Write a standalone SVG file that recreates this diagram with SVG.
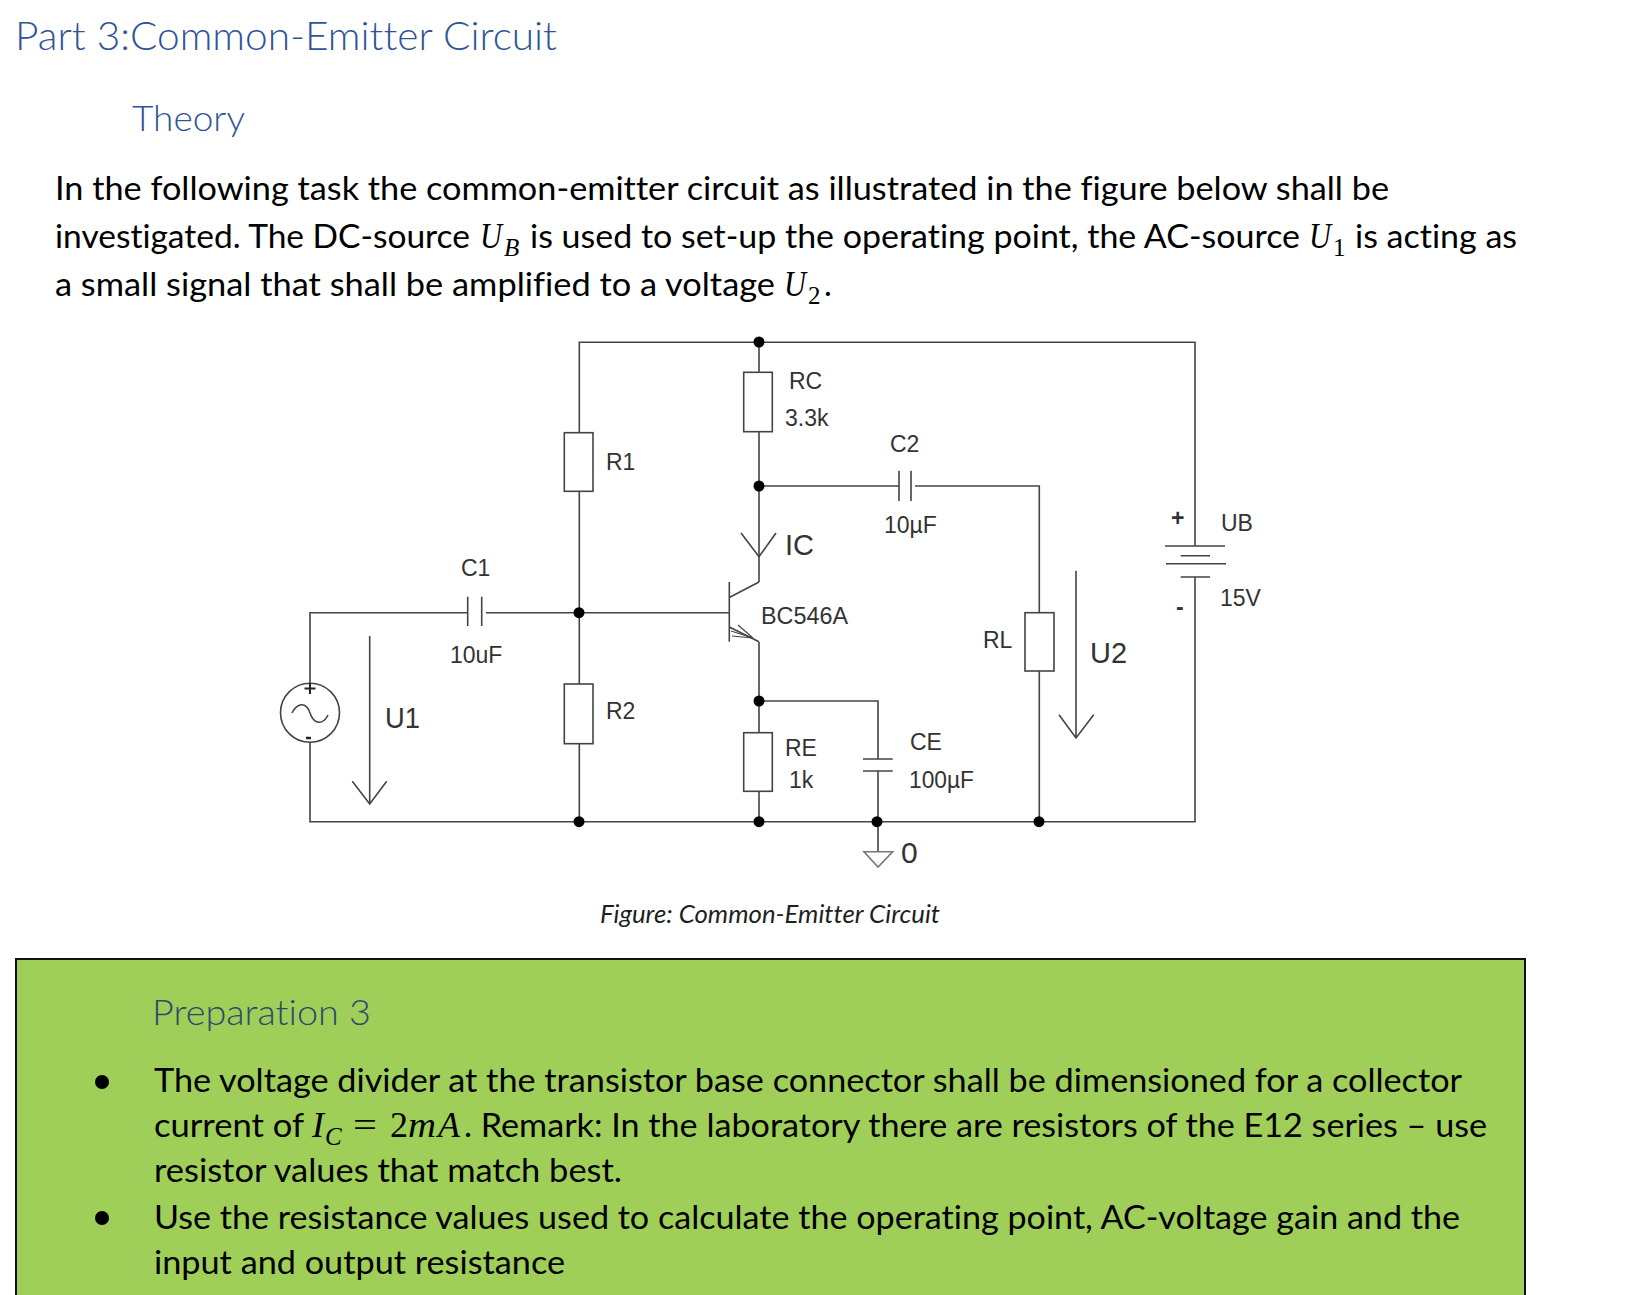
<svg xmlns="http://www.w3.org/2000/svg" width="1647" height="1295" viewBox="0 0 1647 1295">
<style>
text{font-variant-ligatures:none}
.w{fill:none;stroke:#444;stroke-width:1.6}
.r{fill:#fff;stroke:#444;stroke-width:1.6}
.d{fill:#000}
.t{font-family:Lato,"Open Sans",sans-serif;font-size:33px;fill:#000}
.m{font-family:"Liberation Serif",serif;font-style:italic;font-size:36px;fill:#000}
.n{font-family:"Liberation Serif",serif;font-size:36px;fill:#000}
.s{font-size:25px}
.h{font-family:Lato,"Open Sans",sans-serif;font-weight:300;fill:#2f5496}
.c{font-family:"Liberation Sans",Arial,sans-serif;font-size:23px;fill:#333}
.l{font-family:"Liberation Sans",Arial,sans-serif;font-size:30px;fill:#333}
</style>
<rect width="1647" height="1295" fill="#fff"/>
<g id="headings">
<text class="h" x="15" y="50" font-size="40" textLength="542" lengthAdjust="spacingAndGlyphs">Part 3:Common-Emitter Circuit</text>
<text class="h" x="132" y="131" font-size="35" textLength="113" lengthAdjust="spacingAndGlyphs">Theory</text>
</g>
<g id="intro">
<text class="t" x="55" y="200" textLength="1334" lengthAdjust="spacingAndGlyphs">In the following task the common-emitter circuit as illustrated in the figure below shall be</text>
<text class="t" x="55" y="248" textLength="415" lengthAdjust="spacingAndGlyphs">investigated. The DC-source</text>
<text class="m" x="480" y="248" textLength="22" lengthAdjust="spacingAndGlyphs">U</text><text class="m s" x="504" y="256">B</text>
<text class="t" x="530" y="248" textLength="770" lengthAdjust="spacingAndGlyphs">is used to set-up the operating point, the AC-source</text>
<text class="m" x="1309" y="248" textLength="22" lengthAdjust="spacingAndGlyphs">U</text><text class="n s" x="1333" y="256">1</text>
<text class="t" x="1355" y="248" textLength="162" lengthAdjust="spacingAndGlyphs">is acting as</text>
<text class="t" x="55" y="296" textLength="720" lengthAdjust="spacingAndGlyphs">a small signal that shall be amplified to a voltage</text>
<text class="m" x="784" y="296" textLength="22" lengthAdjust="spacingAndGlyphs">U</text><text class="n s" x="808" y="304">2</text>
<text class="t" x="824" y="296">.</text>
</g>
<g id="connectors">
<path class="w" d="M310 683V612.7H468M486 612.7H729.3M310 742V821.7H1195V577M1195 546V342.3H579.3V433M579.3 491V684M579.3 744V821.7"/>
<path class="w" d="M759 342.3V372M759 432V582M759 582L729.3 597.5M759 642V733M759 791V821.7"/>
<path class="w" d="M759 486H899M915 486H1039.3V613M1039.3 671V821.7M759 701H878V759M878 771V852"/>
<path class="w" d="M729.3 582V641.7M369.7 636V804M352.3 781.3L369.7 804L386.7 781.3M1076 570.7V738M1059 714.7L1076 738L1093.7 714.7M741 533L759 556.7L776 533"/>
</g>
<g id="R1"><rect class="r" x="564.3" y="432.7" width="28.7" height="58.6"/><text class="c" x="606" y="470">R1</text></g>
<g id="R2"><rect class="r" x="564.3" y="684" width="28.7" height="59.7"/><text class="c" x="606" y="719">R2</text></g>
<g id="RC"><rect class="r" x="743.7" y="372.3" width="28.6" height="59.4"/><text class="c" x="789" y="389">RC</text><text class="c" x="785" y="426">3.3k</text></g>
<g id="RE"><rect class="r" x="743.7" y="732.7" width="28.6" height="58.6"/><text class="c" x="785" y="756">RE</text><text class="c" x="789" y="788">1k</text></g>
<g id="RL"><rect class="r" x="1025" y="612.7" width="29" height="58.3"/><text class="c" x="983" y="648">RL</text></g>
<g id="C1"><path class="w" d="M467.7 596.7V626M481.7 596.7V626"/><text class="c" x="461" y="576">C1</text><text class="c" x="450" y="663">10uF</text></g>
<g id="C2"><path class="w" d="M899 470.7V501M911 470.7V501"/><text class="c" x="890" y="452">C2</text><text class="c" x="884" y="533">10µF</text></g>
<g id="CE"><path class="w" d="M863 759H892.7M863 771H892.7"/><text class="c" x="910" y="750">CE</text><text class="c" x="909" y="788" textLength="65" lengthAdjust="spacingAndGlyphs">100µF</text></g>
<g id="UB"><path class="w" d="M1165 546H1225M1180.7 555.7H1210M1166 563.7H1226M1180.7 577H1210"/><text class="c" x="1221" y="531">UB</text><text class="c" x="1220" y="606">15V</text><text class="c" x="1171" y="526" font-weight="700">+</text><text class="c" x="1176" y="615" font-weight="700">-</text></g>
<g id="U1src"><circle class="r" cx="310" cy="712.7" r="29.5"/><path class="w" d="M292 713C297 703 306 701 310 713C314 725 323 725 328 715"/><path d="M304.5 688.5H315.5M310 683V694" stroke="#222" stroke-width="2" fill="none"/><path d="M306 738H311" stroke="#222" stroke-width="2.5" fill="none"/><text class="l" x="385" y="728" textLength="35" lengthAdjust="spacingAndGlyphs">U1</text></g>
<g id="U2lbl"><text class="l" x="1090" y="663" textLength="37" lengthAdjust="spacingAndGlyphs">U2</text></g>
<g id="Q1"><path class="w" d="M729.3 627L759 641.7"/><path d="M753 638L738 625M753 638L732 636M753 638L731 631" fill="none" stroke="#444" stroke-width="1.1"/><text class="l" x="785" y="555" textLength="29" lengthAdjust="spacingAndGlyphs">IC</text><text class="c" x="761" y="624" textLength="87" lengthAdjust="spacingAndGlyphs">BC546A</text></g>
<g id="gnd"><path d="M864 851.7H892.7L878 867Z" fill="none" stroke="#777" stroke-width="1.6"/><text class="l" x="901" y="863" font-size="29">0</text></g>
<g id="junctions">
<circle class="d" cx="759" cy="342" r="5.5"/><circle class="d" cx="759" cy="486" r="5.5"/><circle class="d" cx="579" cy="612.7" r="5.5"/><circle class="d" cx="759" cy="701" r="5.5"/><circle class="d" cx="579" cy="821.7" r="5.5"/><circle class="d" cx="759" cy="821.7" r="5.5"/><circle class="d" cx="877" cy="821.7" r="5.5"/><circle class="d" cx="1039" cy="821.7" r="5.5"/>
</g>
<g id="caption"><text x="600" y="923" font-family="Lato,'Open Sans',sans-serif" font-style="italic" font-size="25" fill="#1f1f1f" textLength="340" lengthAdjust="spacingAndGlyphs">Figure: Common-Emitter Circuit</text></g>
<g id="prep">
<rect x="16" y="959" width="1509" height="340" fill="#9fcf58" stroke="#111" stroke-width="2"/>
<text class="h" x="152" y="1025" font-size="36" style="fill:#2c4a6e" textLength="219" lengthAdjust="spacingAndGlyphs">Preparation 3</text>
<circle class="d" cx="102" cy="1082" r="7"/><circle class="d" cx="102" cy="1218" r="7"/>
<text class="t" x="154" y="1092" textLength="1308" lengthAdjust="spacingAndGlyphs">The voltage divider at the transistor base connector shall be dimensioned for a collector</text>
<text class="t" x="154" y="1137" textLength="150" lengthAdjust="spacingAndGlyphs">current of</text>
<text class="m" x="312" y="1137">I</text><text class="m s" x="325" y="1145">C</text>
<text class="n" x="353" y="1137" textLength="24" lengthAdjust="spacingAndGlyphs">=</text>
<text class="n" x="390" y="1137">2</text><text class="m" x="408" y="1137" textLength="28" lengthAdjust="spacingAndGlyphs">m</text><text class="m" x="438" y="1137">A</text>
<text class="t" x="464" y="1137" textLength="1023" lengthAdjust="spacingAndGlyphs">. Remark: In the laboratory there are resistors of the E12 series – use</text>
<text class="t" x="154" y="1182" textLength="468" lengthAdjust="spacingAndGlyphs">resistor values that match best.</text>
<text class="t" x="154" y="1229" textLength="1306" lengthAdjust="spacingAndGlyphs">Use the resistance values used to calculate the operating point, AC-voltage gain and the</text>
<text class="t" x="154" y="1274" textLength="411" lengthAdjust="spacingAndGlyphs">input and output resistance</text>
</g>
</svg>
